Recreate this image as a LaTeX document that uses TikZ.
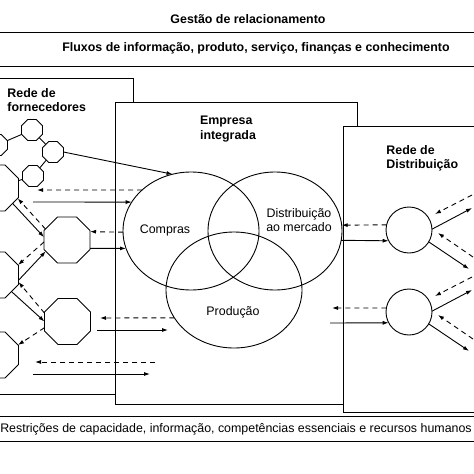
\documentclass[tikz,border=0pt]{standalone}
\usepackage{fontspec}
\setmainfont{Liberation Sans}
\usetikzlibrary{shapes.geometric,arrows.meta}

\begin{document}
\begin{tikzpicture}[x=1pt,y=-1pt,line width=0.9pt,
  fwd/.style={-{Latex[length=6pt,width=4pt]}},
  rev/.style={fwd,dash pattern=on 5pt off 4pt},
  bigoct/.style={draw,regular polygon,regular polygon sides=8,minimum size=49.8pt,inner sep=0pt,outer sep=0pt},
  smalloct/.style={bigoct,minimum size=22.7pt},
  venn/.style={draw,ellipse,minimum width=136pt,minimum height=118pt,inner sep=0pt,outer sep=0pt},
  hub/.style={draw,circle,minimum size=46pt,inner sep=0pt,outer sep=0pt},
  head/.style={font=\bfseries\fontsize{12.4}{14.5}\selectfont,align=left,inner sep=0pt},
  txt/.style={font=\fontsize{12.4}{14}\selectfont,align=center,inner sep=0pt}]
\useasboundingbox (0,0) rectangle (474,474);
\clip (0,0) rectangle (474,474);

% faixas
\draw (-5,32) -- (480,32);
\draw (-5,66) -- (480,66);
\draw (-5,416) -- (480,416);
\draw (-5,441) -- (480,441);
\node[head] (gestao) at (248,19) {Gestão de relacionamento};
\node[head] (fluxos) at (256,48) {Fluxos de informação, produto, serviço, finanças e conhecimento};
\node[txt] (restr) at (236,429) {Restrições de capacidade, informação, competências essenciais e recursos humanos};

% caixas
\draw (-10,78) -- (133,78) -- (133,394) -- (-10,394);
\filldraw[fill=white] (115,102) rectangle (357,404);
\filldraw[fill=white] (343,126) rectangle (490,412);
\node[head,anchor=west] (forn) at (7,100) {Rede de\\fornecedores};
\node[head] (emp) at (228,129) {Empresa\\integrada};
\node[head,anchor=west] (distr) at (386,158.5) {Rede de\\Distribuição};

% empresa
\node[venn] (compras) at (191,231) {};
\node[venn,minimum width=134pt] (mercado) at (275,231) {};
\node[venn,minimum height=116pt] (prod) at (234,290) {};
\node[txt] (tcompras) at (165,230) {Compras};
\node[txt] (tmercado) at (299,220) {Distribuição\\ao mercado};
\node[txt] (tprod) at (233,312) {Produção};

% fornecedores
\node[smalloct] (s0) at (-3,145) {};
\node[smalloct] (s1) at (32,130) {};
\node[smalloct] (s2) at (53,152) {};
\node[smalloct] (s3) at (33,176) {};
\node[bigoct] (oa) at (-4.5,188) {};
\node[bigoct] (ob) at (67,240) {};
\node[bigoct] (oc) at (-4.5,275) {};
\node[bigoct] (od) at (67.5,321.5) {};
\node[bigoct] (oe) at (-4.5,355) {};
\draw (s0) -- (s1);
\draw (s1) -- (s2);
\draw (s2) -- (s3);
\draw (s3) -- (oa);
\draw[fwd] (oa.-42) -- (ob.173);
\draw[rev] (ob.153) -- (oa.-25);
\draw[rev] (ob.185) -- (oc.24);
\draw[fwd] (oc.-13) -- (ob.-152);
\draw[fwd] (oc.-46) -- (od.180);
\draw[rev] (od.160) -- (oc.-17);
\draw[rev] (od.195) -- (oe.24);

% fluxos fornecedores - empresa
\coordinate (r1) at (37,190);
\coordinate (f1) at (33,202);
\coordinate (r2) at (100,318);
\coordinate (f2a) at (97,330);
\coordinate (f2b) at (168,330);
\coordinate (r3a) at (155,362);
\coordinate (r3b) at (35,362);
\coordinate (f3a) at (33,374);
\coordinate (f3b) at (150,374);
\draw[fwd] (s2.east) -- (compras.108);
\draw[rev] (compras.140) -- (r1);
\draw[fwd] (f1) -- (compras.154);
\draw[rev] (compras.181) -- (ob.20);
\draw[fwd] (ob.-20) -- (compras.195);
\draw[rev] (prod.205) -- (r2);
\draw[fwd] (f2a) -- (f2b);
\draw[rev] (r3a) -- (r3b);
\draw[fwd] (f3a) -- (f3b);

% distribuicao
\node[hub] (h1) at (409,230) {};
\node[hub] (h2) at (409,312) {};
\coordinate (r4) at (332,308);
\coordinate (f4) at (330,323);
\draw[rev] (h1.167) -- (mercado.5);
\draw[fwd] (mercado.-8.6) -- (h1.-152);
\draw[rev] (h2.170) -- (r4);
\draw[fwd] (f4) -- (h2.-152);
\foreach \h in {h1,h2}{
  \coordinate (\h-uo) at ([shift={(63,-22)}]\h.center);
  \coordinate (\h-ua) at ([shift={(63,-35)}]\h.center);
  \coordinate (\h-ub) at ([shift={(26,-16)}]\h.center);
  \coordinate (\h-do) at ([shift={(60,39)}]\h.center);
  \coordinate (\h-da) at ([shift={(64,27)}]\h.center);
  \coordinate (\h-db) at ([shift={(29,3)}]\h.center);
  \draw[fwd] (\h.2) -- (\h-uo);
  \draw[rev] (\h-ua) -- (\h-ub);
  \draw[fwd] (\h.-31) -- (\h-do);
  \draw[rev] (\h-da) -- (\h-db);
}
\end{tikzpicture}
\end{document}
